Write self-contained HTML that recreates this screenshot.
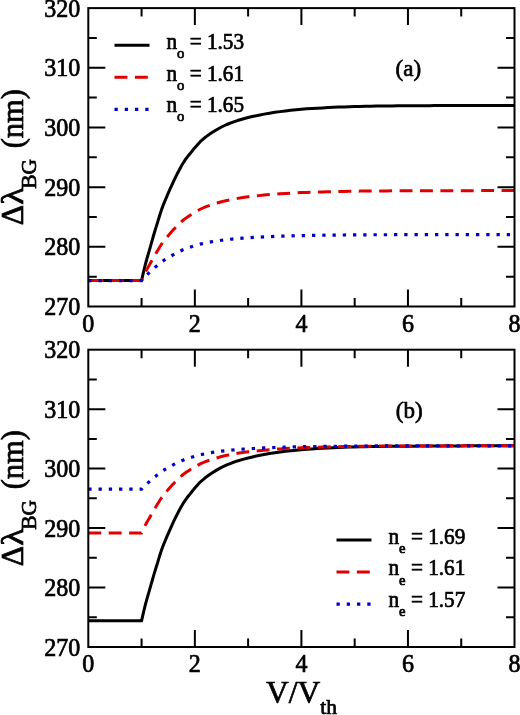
<!DOCTYPE html>
<html><head><meta charset="utf-8"><title>Bandgap shift vs voltage</title>
<style>
html,body{margin:0;padding:0;background:#fff;overflow:hidden;}
svg{display:block;}
text{font-family:"Liberation Serif", "DejaVu Serif", serif;fill:#000;stroke:#000;stroke-width:0.7px;}
</style></head><body>
<svg width="520" height="715" viewBox="0 0 520 715">
<rect x="0" y="0" width="520" height="715" fill="#fff"/>
<path d="M141.57,306.50V298.00M141.57,8.10V16.60M194.85,306.50V289.50M194.85,8.10V25.10M248.12,306.50V298.00M248.12,8.10V16.60M301.40,306.50V289.50M301.40,8.10V25.10M354.68,306.50V298.00M354.68,8.10V16.60M407.95,306.50V289.50M407.95,8.10V25.10M461.23,306.50V298.00M461.23,8.10V16.60M88.30,276.66H96.80M514.50,276.66H506.00M88.30,246.82H105.30M514.50,246.82H497.50M88.30,216.98H96.80M514.50,216.98H506.00M88.30,187.14H105.30M514.50,187.14H497.50M88.30,157.30H96.80M514.50,157.30H506.00M88.30,127.46H105.30M514.50,127.46H497.50M88.30,97.62H96.80M514.50,97.62H506.00M88.30,67.78H105.30M514.50,67.78H497.50M88.30,37.94H96.80M514.50,37.94H506.00" stroke="#000" stroke-width="2" fill="none"/>
<text transform="translate(88.30,331.50) scale(1,1.06)" font-size="24" text-anchor="middle">0</text>
<text transform="translate(194.85,331.50) scale(1,1.06)" font-size="24" text-anchor="middle">2</text>
<text transform="translate(301.40,331.50) scale(1,1.06)" font-size="24" text-anchor="middle">4</text>
<text transform="translate(407.95,331.50) scale(1,1.06)" font-size="24" text-anchor="middle">6</text>
<text transform="translate(514.50,331.50) scale(1,1.06)" font-size="24" text-anchor="middle">8</text>
<text transform="translate(80.3,315.00) scale(1,1.06)" font-size="24" text-anchor="end">270</text>
<text transform="translate(80.3,255.32) scale(1,1.06)" font-size="24" text-anchor="end">280</text>
<text transform="translate(80.3,195.64) scale(1,1.06)" font-size="24" text-anchor="end">290</text>
<text transform="translate(80.3,135.96) scale(1,1.06)" font-size="24" text-anchor="end">300</text>
<text transform="translate(80.3,76.28) scale(1,1.06)" font-size="24" text-anchor="end">310</text>
<text transform="translate(80.3,16.60) scale(1,1.06)" font-size="24" text-anchor="end">320</text>
<path d="M141.57,647.00V638.50M141.57,349.70V358.20M194.85,647.00V630.00M194.85,349.70V366.70M248.12,647.00V638.50M248.12,349.70V358.20M301.40,647.00V630.00M301.40,349.70V366.70M354.68,647.00V638.50M354.68,349.70V358.20M407.95,647.00V630.00M407.95,349.70V366.70M461.23,647.00V638.50M461.23,349.70V358.20M88.30,617.27H96.80M514.50,617.27H506.00M88.30,587.54H105.30M514.50,587.54H497.50M88.30,557.81H96.80M514.50,557.81H506.00M88.30,528.08H105.30M514.50,528.08H497.50M88.30,498.35H96.80M514.50,498.35H506.00M88.30,468.62H105.30M514.50,468.62H497.50M88.30,438.89H96.80M514.50,438.89H506.00M88.30,409.16H105.30M514.50,409.16H497.50M88.30,379.43H96.80M514.50,379.43H506.00" stroke="#000" stroke-width="2" fill="none"/>
<text transform="translate(88.30,672.00) scale(1,1.06)" font-size="24" text-anchor="middle">0</text>
<text transform="translate(194.85,672.00) scale(1,1.06)" font-size="24" text-anchor="middle">2</text>
<text transform="translate(301.40,672.00) scale(1,1.06)" font-size="24" text-anchor="middle">4</text>
<text transform="translate(407.95,672.00) scale(1,1.06)" font-size="24" text-anchor="middle">6</text>
<text transform="translate(514.50,672.00) scale(1,1.06)" font-size="24" text-anchor="middle">8</text>
<text transform="translate(80.3,655.50) scale(1,1.06)" font-size="24" text-anchor="end">270</text>
<text transform="translate(80.3,596.04) scale(1,1.06)" font-size="24" text-anchor="end">280</text>
<text transform="translate(80.3,536.58) scale(1,1.06)" font-size="24" text-anchor="end">290</text>
<text transform="translate(80.3,477.12) scale(1,1.06)" font-size="24" text-anchor="end">300</text>
<text transform="translate(80.3,417.66) scale(1,1.06)" font-size="24" text-anchor="end">310</text>
<text transform="translate(80.3,358.20) scale(1,1.06)" font-size="24" text-anchor="end">320</text>
<polyline points="88.30,280.54 141.57,280.54 142.91,274.61 144.24,268.98 145.57,263.67 146.90,258.74 148.23,254.14 149.57,249.57 150.90,244.87 152.23,240.15 153.56,235.53 154.89,231.05 156.23,226.67 157.56,222.36 158.89,218.04 160.22,213.71 161.55,209.63 162.88,206.00 164.22,202.67 165.55,199.48 166.88,196.32 168.21,193.21 169.54,190.17 170.88,187.19 172.21,184.26 173.54,181.36 174.87,178.54 176.20,175.86 177.54,173.25 178.87,170.69 180.20,168.20 181.53,165.81 182.86,163.54 184.19,161.43 185.53,159.47 186.86,157.64 188.19,155.90 189.52,154.22 190.85,152.58 192.19,150.94 193.52,149.29 194.85,147.65 200.18,141.69 205.50,137.13 210.83,133.31 216.16,129.97 221.49,127.01 226.81,124.51 232.14,122.39 237.47,120.55 242.80,118.96 248.12,117.56 253.45,116.30 258.78,115.16 264.11,114.12 269.44,113.18 274.76,112.35 280.09,111.62 285.42,110.95 290.75,110.32 296.07,109.75 301.40,109.26 306.73,108.85 312.06,108.49 317.38,108.17 322.71,107.88 328.04,107.62 333.36,107.37 338.69,107.12 344.02,106.89 349.35,106.69 354.68,106.51 360.00,106.38 365.33,106.26 370.66,106.15 375.99,106.06 381.31,105.98 386.64,105.92 391.97,105.88 397.30,105.84 402.62,105.80 407.95,105.77 413.28,105.73 418.61,105.70 423.93,105.66 429.26,105.63 434.59,105.60 439.92,105.58 445.24,105.55 450.57,105.53 455.90,105.50 461.23,105.48 466.55,105.46 471.88,105.45 477.21,105.43 482.54,105.42 487.86,105.41 493.19,105.40 498.52,105.39 503.85,105.38 509.17,105.38 514.50,105.38" fill="none" stroke="#000" stroke-width="3.0" stroke-linejoin="round"/>
<polyline points="88.30,280.54 141.57,280.54 142.91,277.49 144.24,274.60 145.57,271.88 146.90,269.35 148.23,266.98 149.57,264.64 150.90,262.22 152.23,259.80 153.56,257.43 154.89,255.13 156.23,252.88 157.56,250.67 158.89,248.45 160.22,246.22 161.55,244.13 162.88,242.27 164.22,240.56 165.55,238.92 166.88,237.29 168.21,235.70 169.54,234.14 170.88,232.61 172.21,231.10 173.54,229.61 174.87,228.17 176.20,226.79 177.54,225.45 178.87,224.14 180.20,222.86 181.53,221.63 182.86,220.47 184.19,219.38 185.53,218.38 186.86,217.43 188.19,216.54 189.52,215.68 190.85,214.84 192.19,214.00 193.52,213.15 194.85,212.31 200.18,209.24 205.50,206.91 210.83,204.94 216.16,203.23 221.49,201.71 226.81,200.42 232.14,199.34 237.47,198.39 242.80,197.58 248.12,196.86 253.45,196.21 258.78,195.62 264.11,195.09 269.44,194.60 274.76,194.18 280.09,193.81 285.42,193.46 290.75,193.14 296.07,192.85 301.40,192.59 306.73,192.38 312.06,192.20 317.38,192.03 322.71,191.89 328.04,191.75 333.36,191.62 338.69,191.50 344.02,191.38 349.35,191.27 354.68,191.18 360.00,191.11 365.33,191.05 370.66,191.00 375.99,190.95 381.31,190.91 386.64,190.88 391.97,190.86 397.30,190.84 402.62,190.82 407.95,190.80 413.28,190.78 418.61,190.76 423.93,190.75 429.26,190.73 434.59,190.72 439.92,190.70 445.24,190.69 450.57,190.68 455.90,190.67 461.23,190.65 466.55,190.64 471.88,190.64 477.21,190.63 482.54,190.62 487.86,190.62 493.19,190.61 498.52,190.61 503.85,190.60 509.17,190.60 514.50,190.60" fill="none" stroke="#e00000" stroke-width="3.0" stroke-dasharray="12.9 7.5" stroke-dashoffset="-2"/>
<polyline points="88.30,280.54 141.57,280.54 142.91,278.98 144.24,277.51 145.57,276.11 146.90,274.82 148.23,273.61 149.57,272.41 150.90,271.18 152.23,269.94 153.56,268.73 154.89,267.56 156.23,266.41 157.56,265.28 158.89,264.14 160.22,263.01 161.55,261.94 162.88,260.98 164.22,260.11 165.55,259.27 166.88,258.44 168.21,257.63 169.54,256.83 170.88,256.05 172.21,255.28 173.54,254.52 174.87,253.78 176.20,253.08 177.54,252.39 178.87,251.72 180.20,251.07 181.53,250.44 182.86,249.84 184.19,249.29 185.53,248.78 186.86,248.30 188.19,247.84 189.52,247.40 190.85,246.97 192.19,246.54 193.52,246.11 194.85,245.68 200.18,244.11 205.50,242.92 210.83,241.91 216.16,241.04 221.49,240.26 226.81,239.60 232.14,239.05 237.47,238.57 242.80,238.15 248.12,237.78 253.45,237.45 258.78,237.15 264.11,236.88 269.44,236.63 274.76,236.41 280.09,236.22 285.42,236.05 290.75,235.88 296.07,235.73 301.40,235.60 306.73,235.50 312.06,235.40 317.38,235.32 322.71,235.24 328.04,235.17 333.36,235.11 338.69,235.04 344.02,234.98 349.35,234.93 354.68,234.88 360.00,234.85 365.33,234.82 370.66,234.79 375.99,234.76 381.31,234.74 386.64,234.73 391.97,234.72 397.30,234.71 402.62,234.70 407.95,234.69 413.28,234.68 418.61,234.67 423.93,234.66 429.26,234.65 434.59,234.64 439.92,234.64 445.24,234.63 450.57,234.62 455.90,234.62 461.23,234.61 466.55,234.61 471.88,234.60 477.21,234.60 482.54,234.60 487.86,234.59 493.19,234.59 498.52,234.59 503.85,234.59 509.17,234.59 514.50,234.59" fill="none" stroke="#0000c8" stroke-width="3.2" stroke-dasharray="3.3 6.95" stroke-dashoffset="0"/>
<polyline points="88.30,620.84 141.57,620.84 142.91,614.91 144.24,609.28 145.57,603.98 146.90,599.05 148.23,594.45 149.57,589.89 150.90,585.19 152.23,580.47 153.56,575.86 154.89,571.38 156.23,567.01 157.56,562.69 158.89,558.37 160.22,554.05 161.55,549.98 162.88,546.35 164.22,543.02 165.55,539.83 166.88,536.67 168.21,533.57 169.54,530.53 170.88,527.55 172.21,524.62 173.54,521.72 174.87,518.90 176.20,516.23 177.54,513.62 178.87,511.06 180.20,508.57 181.53,506.18 182.86,503.91 184.19,501.80 185.53,499.85 186.86,498.01 188.19,496.27 189.52,494.60 190.85,492.96 192.19,491.32 193.52,489.68 194.85,488.03 200.18,482.07 205.50,477.52 210.83,473.70 216.16,470.37 221.49,467.41 226.81,464.91 232.14,462.79 237.47,460.95 242.80,459.36 248.12,457.96 253.45,456.70 258.78,455.56 264.11,454.52 269.44,453.58 274.76,452.75 280.09,452.03 285.42,451.35 290.75,450.72 296.07,450.16 301.40,449.66 306.73,449.25 312.06,448.90 317.38,448.58 322.71,448.29 328.04,448.02 333.36,447.77 338.69,447.53 344.02,447.30 349.35,447.09 354.68,446.92 360.00,446.79 365.33,446.67 370.66,446.56 375.99,446.47 381.31,446.39 386.64,446.33 391.97,446.29 397.30,446.25 402.62,446.21 407.95,446.17 413.28,446.14 418.61,446.11 423.93,446.07 429.26,446.04 434.59,446.01 439.92,445.99 445.24,445.96 450.57,445.93 455.90,445.91 461.23,445.89 466.55,445.87 471.88,445.85 477.21,445.84 482.54,445.83 487.86,445.81 493.19,445.80 498.52,445.80 503.85,445.79 509.17,445.79 514.50,445.79" fill="none" stroke="#000" stroke-width="3.0" stroke-linejoin="round"/>
<polyline points="88.30,533.07 141.57,533.07 142.91,530.12 144.24,527.31 145.57,524.67 146.90,522.21 148.23,519.92 149.57,517.64 150.90,515.30 152.23,512.95 153.56,510.64 154.89,508.41 156.23,506.23 157.56,504.08 158.89,501.93 160.22,499.77 161.55,497.74 162.88,495.93 164.22,494.27 165.55,492.68 166.88,491.10 168.21,489.56 169.54,488.04 170.88,486.56 172.21,485.09 173.54,483.65 174.87,482.25 176.20,480.91 177.54,479.61 178.87,478.33 180.20,477.09 181.53,475.90 182.86,474.77 184.19,473.72 185.53,472.74 186.86,471.83 188.19,470.96 189.52,470.13 190.85,469.31 192.19,468.49 193.52,467.67 194.85,466.85 200.18,463.88 205.50,461.61 210.83,459.71 216.16,458.04 221.49,456.57 226.81,455.32 232.14,454.27 237.47,453.35 242.80,452.56 248.12,451.86 253.45,451.23 258.78,450.66 264.11,450.14 269.44,449.67 274.76,449.26 280.09,448.90 285.42,448.56 290.75,448.25 296.07,447.97 301.40,447.72 306.73,447.52 312.06,447.34 317.38,447.18 322.71,447.03 328.04,446.90 333.36,446.78 338.69,446.66 344.02,446.54 349.35,446.44 354.68,446.35 360.00,446.29 365.33,446.23 370.66,446.17 375.99,446.13 381.31,446.09 386.64,446.06 391.97,446.04 397.30,446.02 402.62,446.00 407.95,445.98 413.28,445.96 418.61,445.95 423.93,445.93 429.26,445.91 434.59,445.90 439.92,445.89 445.24,445.87 450.57,445.86 455.90,445.85 461.23,445.84 466.55,445.83 471.88,445.82 477.21,445.81 482.54,445.81 487.86,445.80 493.19,445.80 498.52,445.79 503.85,445.79 509.17,445.79 514.50,445.79" fill="none" stroke="#e00000" stroke-width="3.0" stroke-dasharray="12.9 7.5" stroke-dashoffset="0"/>
<polyline points="88.30,489.19 141.57,489.19 142.91,487.72 144.24,486.33 145.57,485.01 146.90,483.79 148.23,482.65 149.57,481.52 150.90,480.35 152.23,479.18 153.56,478.04 154.89,476.93 156.23,475.85 157.56,474.78 158.89,473.70 160.22,472.63 161.55,471.62 162.88,470.72 164.22,469.90 165.55,469.11 166.88,468.32 168.21,467.55 169.54,466.80 170.88,466.06 172.21,465.33 173.54,464.62 174.87,463.92 176.20,463.25 177.54,462.61 178.87,461.97 180.20,461.35 181.53,460.76 182.86,460.20 184.19,459.68 185.53,459.19 186.86,458.74 188.19,458.31 189.52,457.89 190.85,457.48 192.19,457.08 193.52,456.67 194.85,456.26 200.18,454.78 205.50,453.66 210.83,452.71 216.16,451.88 221.49,451.15 226.81,450.53 232.14,450.00 237.47,449.55 242.80,449.15 248.12,448.81 253.45,448.49 258.78,448.21 264.11,447.95 269.44,447.72 274.76,447.51 280.09,447.34 285.42,447.17 290.75,447.01 296.07,446.87 301.40,446.75 306.73,446.65 312.06,446.56 317.38,446.48 322.71,446.41 328.04,446.34 333.36,446.28 338.69,446.22 344.02,446.16 349.35,446.11 354.68,446.07 360.00,446.04 365.33,446.01 370.66,445.98 375.99,445.96 381.31,445.94 386.64,445.92 391.97,445.91 397.30,445.90 402.62,445.89 407.95,445.88 413.28,445.87 418.61,445.87 423.93,445.86 429.26,445.85 434.59,445.84 439.92,445.84 445.24,445.83 450.57,445.82 455.90,445.82 461.23,445.81 466.55,445.81 471.88,445.80 477.21,445.80 482.54,445.80 487.86,445.79 493.19,445.79 498.52,445.79 503.85,445.79 509.17,445.79 514.50,445.79" fill="none" stroke="#0000c8" stroke-width="3.2" stroke-dasharray="3.3 6.95" stroke-dashoffset="0"/>
<rect x="88.30" y="8.10" width="426.20" height="298.40" stroke="#000" stroke-width="2" fill="none"/>
<rect x="88.30" y="349.70" width="426.20" height="297.30" stroke="#000" stroke-width="2" fill="none"/>
<line x1="114.5" y1="45.15" x2="149.5" y2="45.15" stroke="#000" stroke-width="3.0" stroke-linejoin="round"/>
<text transform="translate(166.5,49.00) scale(1,1.06)" font-size="21.2">n<tspan font-size="14.7" dy="8.7">o</tspan><tspan dy="-8.7"> = 1.53</tspan></text>
<line x1="114.5" y1="77.25" x2="149.5" y2="77.25" stroke="#e00000" stroke-width="3.0" stroke-dasharray="12.9 7.5" stroke-dashoffset="0"/>
<text transform="translate(166.5,80.50) scale(1,1.06)" font-size="21.2">n<tspan font-size="14.7" dy="8.7">o</tspan><tspan dy="-8.7"> = 1.61</tspan></text>
<line x1="114.5" y1="109.35" x2="149.5" y2="109.35" stroke="#0000c8" stroke-width="3.2" stroke-dasharray="3.3 6.95" stroke-dashoffset="0"/>
<text transform="translate(166.5,112.00) scale(1,1.06)" font-size="21.2">n<tspan font-size="14.7" dy="8.7">o</tspan><tspan dy="-8.7"> = 1.65</tspan></text>
<line x1="336.5" y1="539.95" x2="371.5" y2="539.95" stroke="#000" stroke-width="3.0" stroke-linejoin="round"/>
<text transform="translate(388.5,543.80) scale(1,1.06)" font-size="21.2">n<tspan font-size="14.7" dy="8.7">e</tspan><tspan dy="-8.7"> = 1.69</tspan></text>
<line x1="336.5" y1="572.05" x2="371.5" y2="572.05" stroke="#e00000" stroke-width="3.0" stroke-dasharray="12.9 7.5" stroke-dashoffset="0"/>
<text transform="translate(388.5,575.30) scale(1,1.06)" font-size="21.2">n<tspan font-size="14.7" dy="8.7">e</tspan><tspan dy="-8.7"> = 1.61</tspan></text>
<line x1="336.5" y1="604.15" x2="371.5" y2="604.15" stroke="#0000c8" stroke-width="3.2" stroke-dasharray="3.3 6.95" stroke-dashoffset="0"/>
<text transform="translate(388.5,606.80) scale(1,1.06)" font-size="21.2">n<tspan font-size="14.7" dy="8.7">e</tspan><tspan dy="-8.7"> = 1.57</tspan></text>
<text x="395.6" y="75.5" font-size="23">(a)</text>
<text x="395.8" y="417.5" font-size="23">(b)</text>
<g transform="translate(22.8,157.30) rotate(-90)"><text x="-68" y="0" font-size="31.5">Δ</text><text transform="translate(-47.5,0) scale(1.15,1)" font-size="31.5">λ</text><text x="-31.5" y="12.7" font-size="21.5">BG</text><text x="9" y="0" font-size="30.5">(nm)</text></g>
<g transform="translate(22.8,498.35) rotate(-90)"><text x="-68" y="0" font-size="31.5">Δ</text><text transform="translate(-47.5,0) scale(1.15,1)" font-size="31.5">λ</text><text x="-31.5" y="12.7" font-size="21.5">BG</text><text x="9" y="0" font-size="30.5">(nm)</text></g>
<text x="301.5" y="702.8" font-size="31.5" text-anchor="middle">V/V<tspan font-size="21.5" dy="11">th</tspan></text>
</svg></body></html>
